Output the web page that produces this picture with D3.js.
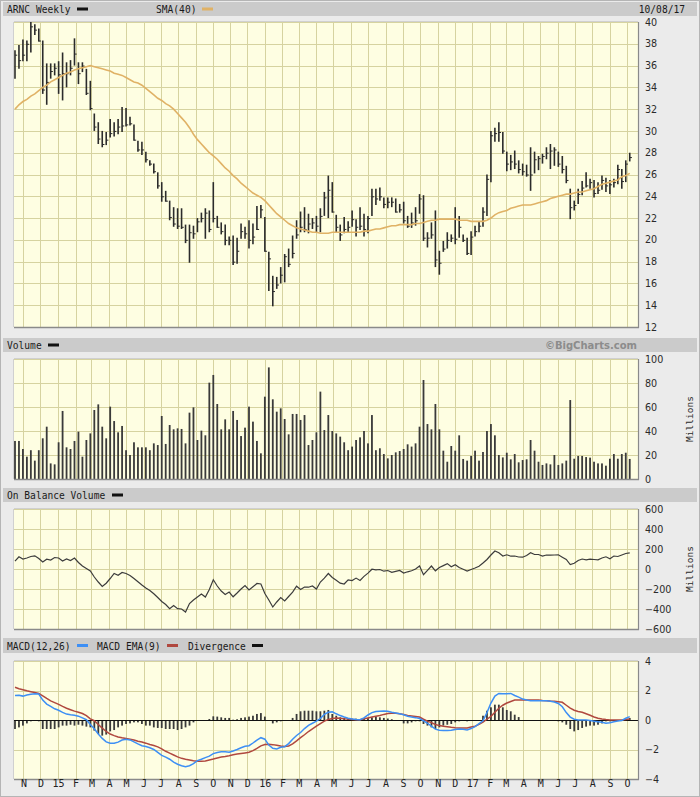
<!DOCTYPE html>
<html><head><meta charset="utf-8">
<script src="https://cdn.jsdelivr.net/npm/d3@7"></script>
<style>body{margin:0;background:#ebebeb;} svg{display:block}</style>
</head><body>
<svg id="c" width="700" height="797"></svg>
<script>
// ---------- DATA ----------
const firstWeek = new Date(2014, 9, 17);   // first weekly bar (Friday)
const weekCount = 156;
const monthLetters = ["J","F","M","A","M","J","J","A","S","O","N","D"];
const priceTicks = [12,14,16,18,20,22,24,26,28,30,32,34,36,38,40];
const volumeTicks = [0,20,40,60,80,100];
const obvTicks = [-600,-400,-200,0,200,400,600];
const macdTicks = [-4,-2,0,2,4];

const high = [37.4,37.9,38.4,38.3,40.0,39.8,39.4,38.3,36.2,36.2,36.2,36.4,37.2,36.3,36.5,38.5,36.3,36.3,35.7,34.6,
31.6,30.8,30.0,29.9,31.1,30.8,31.1,32.2,32.1,31.3,30.6,29.1,29.0,28.1,27.3,27.0,26.2,25.3,24.5,23.6,
23.0,22.9,22.9,21.4,21.4,21.3,22.0,22.5,22.9,22.7,25.3,22.2,21.6,21.4,20.3,20.4,20.2,21.5,21.2,21.8,
21.5,23.1,23.2,22.1,18.9,16.7,16.6,17.5,18.7,19.2,20.4,21.8,22.6,23.0,22.4,22.0,22.2,22.9,24.4,25.9,
25.3,22.3,21.4,22.1,21.7,22.7,21.9,23.0,22.4,22.2,24.7,24.7,24.8,23.9,23.9,23.9,23.8,23.3,23.5,22.2,
22.5,23.0,24.2,24.1,20.7,21.6,22.7,19.0,19.9,20.7,20.5,23.0,22.2,20.5,20.2,20.8,21.3,21.7,23.0,26.0,
30.0,30.3,30.8,29.9,28.1,27.8,28.2,27.3,27.0,26.9,28.5,28.1,27.7,27.9,28.5,28.8,28.5,28.1,27.7,26.8,
24.7,23.6,24.7,25.4,26.2,25.6,25.5,25.3,25.9,25.7,25.5,25.6,26.9,26.5,27.3,28.0];
const low = [34.8,35.7,36.4,36.4,37.2,38.8,38.2,33.4,32.4,34.8,35.1,33.4,32.8,34.0,35.1,36.0,34.3,35.4,33.3,31.9,
30.0,28.8,28.5,28.7,29.4,29.5,29.7,29.9,30.4,30.5,29.1,28.1,27.8,27.1,26.8,26.1,24.7,23.5,23.5,21.8,
21.2,21.0,21.0,19.7,17.9,20.1,20.7,21.6,20.1,20.7,21.6,21.1,20.5,19.5,19.5,17.7,17.8,20.1,20.1,19.2,
19.6,20.9,22.0,18.9,15.3,13.9,15.5,16.0,16.1,17.5,18.3,20.1,20.7,20.7,20.6,21.0,20.7,20.7,22.2,22.0,
22.5,20.7,19.9,20.6,20.7,21.2,20.3,20.9,20.3,20.6,22.2,23.2,23.6,22.9,22.9,23.0,22.5,22.5,21.5,21.1,
21.1,21.3,22.4,19.9,19.3,20.1,17.5,16.8,18.9,19.2,19.8,19.6,20.2,19.8,18.6,18.6,20.3,20.7,21.2,22.2,
25.3,29.0,29.0,27.9,26.3,26.4,26.5,26.1,25.9,25.8,24.5,26.1,26.4,27.0,27.4,26.5,26.8,26.7,26.1,25.2,
21.9,22.7,23.3,24.1,24.8,24.7,23.9,24.2,24.6,24.4,24.2,24.8,25.1,24.7,25.3,27.2];
const close = [37.0,36.5,37.0,38.0,39.6,39.3,38.3,33.8,34.5,35.5,35.8,35.2,35.3,35.3,35.8,37.1,35.3,36.0,33.5,32.1,
30.4,29.3,28.8,29.2,29.8,30.0,30.4,30.5,30.6,30.7,29.2,28.3,28.3,27.4,27.0,26.3,25.0,24.0,23.6,22.1,
21.5,21.3,21.2,20.0,20.7,20.6,21.7,22.0,22.5,21.0,22.0,21.2,20.8,20.0,20.0,18.0,19.0,20.8,20.6,20.0,
20.3,21.0,22.8,19.0,18.3,15.3,15.9,16.8,18.5,17.8,18.8,20.5,21.2,21.0,21.5,21.6,21.3,22.2,23.9,24.6,
22.6,21.2,20.5,21.0,21.2,21.9,21.2,21.3,21.0,22.0,24.0,23.8,24.0,23.3,23.5,23.5,22.6,22.8,21.8,21.3,
21.6,21.8,23.8,20.2,20.2,20.5,18.2,17.9,19.2,20.0,20.2,20.1,21.2,20.0,18.8,20.3,20.8,21.3,22.6,25.6,
29.6,29.8,29.9,28.2,27.0,27.2,27.0,26.5,26.3,26.0,26.0,27.4,27.5,27.7,28.0,28.2,28.3,27.0,26.5,25.5,
23.0,23.2,24.2,24.8,25.0,25.3,24.3,24.6,25.5,25.0,25.1,25.3,26.5,25.4,27.0,27.6];
const sma40 = [32.0,32.4,32.7,32.9,33.2,33.4,33.7,34.0,34.2,34.5,34.7,34.9,35.1,35.3,35.4,35.6,35.7,35.8,35.9,36.0,
35.9,35.8,35.7,35.6,35.5,35.3,35.2,35.1,34.9,34.7,34.5,34.4,34.2,33.9,33.6,33.3,33.0,32.8,32.5,32.3,
32.0,31.6,31.2,30.8,30.3,29.7,29.2,28.8,28.4,28.0,27.7,27.4,27.0,26.6,26.3,25.9,25.6,25.2,24.9,24.6,
24.3,24.1,23.9,23.6,23.2,22.8,22.4,22.1,21.8,21.5,21.3,21.1,21.0,20.9,20.8,20.7,20.7,20.6,20.6,20.6,
20.7,20.7,20.7,20.7,20.7,20.7,20.7,20.7,20.8,20.8,20.9,21.0,21.0,21.1,21.2,21.3,21.3,21.4,21.4,21.4,
21.4,21.5,21.5,21.6,21.7,21.8,21.8,21.9,21.9,21.9,21.9,21.9,21.8,21.8,21.8,21.7,21.7,21.7,21.7,21.8,
22.0,22.3,22.5,22.6,22.7,22.9,23.0,23.1,23.2,23.2,23.2,23.3,23.4,23.5,23.6,23.8,23.9,24.0,24.1,24.2,
24.2,24.3,24.4,24.4,24.5,24.6,24.7,24.9,25.1,25.2,25.3,25.4,25.5,25.8,25.9,26.1];
const volume = [31.7,31.7,25,18.6,24,15.3,24,33.9,43.6,13,12.2,30.6,56.7,26.4,25,31.7,39.4,18.6,32.5,38,
57.5,62.2,43.6,33.9,60.3,48.3,38.9,44.2,24,20,30.6,26.4,26.4,26.4,24,29.7,28.3,52.5,29.2,45,
41.4,42.2,41.7,29.7,55.3,59.7,32.5,40.3,36.4,80.3,86.7,62.5,41.4,49.7,41.4,56.7,49.2,35.8,42.8,60.3,
47.8,31.7,21.4,68.6,93,66.4,56.1,58.9,50,37.2,54.2,54.2,49.2,53.3,28.3,32.5,38.9,72.8,40.8,53.3,
40,38,35.3,30.6,24,27,32.5,34.7,40,29.7,53.3,24,25.6,20.8,17.2,20,22.2,23.3,25,28.9,
27,29.7,43.6,82.5,45.8,41.4,62.5,41.4,23.6,14.4,27.5,23.6,36.4,16.7,15.3,19.2,23.6,15.3,22.5,40,
45.8,36.4,20,18,21.9,16.4,20.8,13.9,15.8,16.4,32.5,23.6,14.4,11.7,13,12.2,20,11.7,13,15.3,
65.8,16.9,19.2,19.2,18.3,17.8,14.4,13,13,11.1,16.9,20.8,16.9,20.8,21.9,16.7];
const obv = [78,122,100,110,125,132,105,70,98,90,115,110,80,100,85,110,65,30,5,-20,
-80,-130,-175,-142,-95,-45,-62,-35,-45,-65,-95,-128,-160,-190,-215,-248,-285,-325,-355,-396,
-365,-396,-400,-430,-345,-310,-280,-250,-280,-205,-108,-170,-220,-255,-230,-278,-240,-200,-165,-210,
-178,-145,-150,-245,-310,-380,-330,-285,-319,-275,-232,-172,-205,-180,-182,-170,-200,-130,-92,-45,
-85,-112,-142,-150,-108,-115,-91,-115,-74,-41,-2,-8,-5,-22,-15,-34,-24,-15,-40,-28,
-18,0,30,-57,-14,30,-18,15,34,54,22,42,15,-2,-20,-5,10,28,60,95,
140,180,162,130,142,128,130,120,118,135,162,145,145,130,140,138,140,142,118,95,
44,58,85,100,92,98,95,92,110,122,103,130,125,140,155,162];
const macd = [1.66,1.68,1.62,1.70,1.74,1.78,1.76,1.35,1.08,0.92,0.76,0.66,0.52,0.40,0.35,0.32,0.26,0.14,0.02,-0.30,
-0.60,-0.95,-1.25,-1.48,-1.58,-1.58,-1.50,-1.36,-1.30,-1.35,-1.48,-1.62,-1.74,-1.80,-1.88,-2.00,-2.20,-2.40,-2.52,-2.66,
-2.85,-3.00,-3.10,-3.16,-3.10,-2.96,-2.75,-2.66,-2.55,-2.45,-2.28,-2.20,-2.16,-2.16,-2.18,-2.10,-2.00,-1.88,-1.78,-1.74,
-1.56,-1.36,-1.20,-1.30,-1.70,-1.92,-1.96,-1.85,-1.81,-1.60,-1.30,-1.05,-0.85,-0.58,-0.36,-0.22,-0.08,0.10,0.38,0.52,
0.55,0.42,0.30,0.20,0.12,0.07,0.04,0.02,0.14,0.34,0.50,0.57,0.60,0.61,0.59,0.53,0.48,0.42,0.36,0.25,
0.20,0.16,0.10,-0.05,-0.22,-0.42,-0.62,-0.70,-0.72,-0.72,-0.69,-0.64,-0.61,-0.62,-0.68,-0.58,-0.45,-0.25,-0.05,0.50,
1.15,1.62,1.80,1.78,1.78,1.80,1.66,1.55,1.42,1.35,1.31,1.31,1.31,1.31,1.30,1.27,1.22,1.12,0.90,0.50,
0.20,0.05,0.00,0.00,0.00,-0.04,-0.08,-0.12,-0.16,-0.22,-0.18,-0.12,-0.07,-0.03,0.12,0.23];
const signal = [2.22,2.12,2.05,1.98,1.92,1.86,1.80,1.64,1.46,1.30,1.18,1.06,0.92,0.80,0.70,0.60,0.53,0.44,0.30,0.08,
-0.05,-0.30,-0.55,-0.78,-0.95,-1.06,-1.15,-1.21,-1.26,-1.31,-1.36,-1.44,-1.49,-1.57,-1.66,-1.73,-1.82,-1.96,-2.12,-2.25,
-2.37,-2.50,-2.60,-2.66,-2.71,-2.76,-2.79,-2.80,-2.78,-2.71,-2.65,-2.57,-2.51,-2.47,-2.42,-2.36,-2.31,-2.27,-2.23,-2.19,
-2.08,-1.93,-1.75,-1.66,-1.64,-1.67,-1.71,-1.76,-1.80,-1.76,-1.62,-1.42,-1.20,-1.00,-0.78,-0.60,-0.42,-0.25,-0.08,0.03,
0.10,0.14,0.12,0.09,0.07,0.04,0.01,0.02,0.08,0.14,0.20,0.26,0.31,0.38,0.44,0.45,0.45,0.43,0.37,0.30,
0.27,0.24,0.20,0.05,-0.08,-0.18,-0.30,-0.38,-0.42,-0.45,-0.49,-0.52,-0.54,-0.54,-0.54,-0.48,-0.42,-0.30,-0.15,0.05,
0.25,0.52,0.80,1.00,1.15,1.25,1.35,1.36,1.36,1.36,1.36,1.36,1.35,1.32,1.30,1.28,1.27,1.24,1.20,1.00,
0.80,0.66,0.58,0.52,0.42,0.32,0.20,0.12,0.07,0.03,0.00,0.00,0.00,0.00,0.03,0.07];
const divergence = [-0.61,-0.5,-0.38,-0.23,-0.09,-0.05,-0.09,-0.61,-0.61,-0.61,-0.61,-0.5,-0.38,-0.38,-0.32,-0.38,-0.32,-0.38,-0.45,
-0.5,-0.72,-0.95,-1.06,-0.99,-0.77,-0.68,-0.5,-0.38,-0.27,-0.23,-0.16,-0.16,-0.27,-0.38,-0.38,-0.5,-0.54,-0.54,-0.61,-0.61,-0.61,-0.68,-0.61,-0.5,-0.38,
-0.16,-0.05,0,0,
0.07,0.25,0.23,0.18,0.14,0.14,0.02,0.05,0.14,0.18,0.23,0.29,0.41,0.47,0.23,0,-0.23,-0.16,-0.09,0,0,0.14,0.41,0.59,0.63,0.63,0.63,0.59,0.59,0.63,0.68,0.41,0.29,0.18,0.14,0.1,
0.09,0.09,0.05,0.14,0.14,0.18,0.23,0.18,0.14,0.1,0.05,0,0,-0.23,-0.23,-0.16,-0.09,-0.09,-0.27,-0.38,-0.5,-0.61,-0.5,-0.38,-0.32,-0.27,-0.16,-0.09,-0.05,-0.09,-0.05,0,0,
0.29,0.63,0.86,1.04,1.04,0.86,0.68,0.59,0.36,0.2,0,0,-0.03,-0.03,-0.03,-0.05,-0.05,-0.05,-0.05,-0.09,-0.16,-0.32,-0.61,-0.77,-0.68,-0.54,-0.45,-0.38,-0.38,-0.32,-0.23,-0.09,-0.09,-0.05,-0.05,0,0.05,0.14];

// ---------- LAYOUT ----------
const svg = d3.select("#c");
const W = 700, H = 797, xL = 14, xR = 638;
const dates = d3.timeFriday.range(firstWeek, d3.timeDay.offset(firstWeek, 7 * weekCount));
const x = d3.scaleTime().domain([new Date(2014, 9, 15, 6), new Date(2017, 9, 20, 14)]).range([xL, xR]);
const months = d3.timeMonth.range(new Date(2014, 10, 1), new Date(2017, 10, 1));

const mono = "'DejaVu Sans Mono', monospace";
const sans = "'DejaVu Sans', Verdana, sans-serif";

svg.append("rect").attr("x", 0).attr("y", 0).attr("width", W).attr("height", H).attr("fill", "#ebebeb");
svg.append("rect").attr("x", 0.5).attr("y", 0.5).attr("width", W - 1).attr("height", H - 1)
  .attr("fill", "none").attr("stroke", "#b5b5b5");

const panels = {
  price: { y: d3.scaleLinear().domain([12, 40]).range([327, 22]), ticks: priceTicks, band: [2, 16] },
  vol:   { y: d3.scaleLinear().domain([0, 100]).range([479, 359]), ticks: volumeTicks, band: [338, 352] },
  obv:   { y: d3.scaleLinear().domain([-600, 600]).range([629, 509]), ticks: obvTicks, band: [488, 502] },
  macd:  { y: d3.scaleLinear().domain([-4, 4]).range([779, 661]), ticks: macdTicks, band: [638, 653] }
};

// items: label, text x, swatch x, colour
function header(p, items, right) {
  const [t, b] = p.band;
  svg.append("rect").attr("x", 3).attr("y", t).attr("width", W - 6).attr("height", b - t).attr("fill", "#cbcbcb");
  items.forEach(it => {
    svg.append("text").attr("x", it.tx).attr("y", b - 3.5).attr("font-family", mono)
      .attr("font-size", 9.6).attr("fill", "#1a1a1a").text(it.label);
    svg.append("rect").attr("x", it.sx).attr("y", (t + b) / 2 - 1.5).attr("width", 11).attr("height", 3).attr("fill", it.color);
  });
  if (right) {
    svg.append("text").attr("x", right.x).attr("y", b - 3.5).attr("text-anchor", "end")
      .attr("font-family", right.font).attr("font-weight", right.weight || "normal")
      .attr("font-size", right.size).attr("fill", right.color).text(right.text);
  }
}

function frame(p) {
  const [y0, y1] = p.y.range();
  const g = svg.append("g");
  g.append("rect").attr("x", xL).attr("y", y1).attr("width", xR - xL).attr("height", y0 - y1).attr("fill", "#fefee2");
  g.selectAll(".vg").data(months).join("line")
    .attr("x1", d => Math.round(x(d)) + 0.5).attr("x2", d => Math.round(x(d)) + 0.5)
    .attr("y1", y1).attr("y2", y0).attr("stroke", "#d6d3a0").attr("stroke-width", 1);
  g.selectAll(".hg").data(p.ticks).join("line")
    .attr("x1", xL).attr("x2", xR)
    .attr("y1", d => Math.round(p.y(d)) + 0.5).attr("y2", d => Math.round(p.y(d)) + 0.5)
    .attr("stroke", "#d6d3a0").attr("stroke-width", 1);
  const ax = d3.axisRight(p.y).tickValues(p.ticks).tickSize(0).tickPadding(0);
  const ag = svg.append("g").attr("transform", `translate(645,0)`).call(ax);
  ag.select(".domain").remove();
  ag.selectAll("text").attr("font-family", sans).attr("font-size", 9.6).attr("fill", "#2a2a2a");
  return g;
}

function border(p) {
  const [y0, y1] = p.y.range();
  svg.append("line").attr("x1", xL).attr("x2", xR + 1).attr("y1", y0 + 0.5).attr("y2", y0 + 0.5).attr("stroke", "#8a8a8a").attr("stroke-width", 1.5);
  svg.append("line").attr("x1", xR + 0.5).attr("x2", xR + 0.5).attr("y1", y1).attr("y2", y0 + 1).attr("stroke", "#8a8a8a").attr("stroke-width", 1.2);
  svg.append("line").attr("x1", xL - 0.5).attr("x2", xL - 0.5).attr("y1", y1).attr("y2", y0).attr("stroke", "#d0d0d0");
  svg.append("line").attr("x1", xL).attr("x2", xR).attr("y1", y1 - 0.5).attr("y2", y1 - 0.5).attr("stroke", "#d0d0d0");
}

function millions(p) {
  const [y0, y1] = p.y.range();
  svg.append("text").attr("transform", `translate(693,${(y0 + y1) / 2}) rotate(-90)`)
    .attr("text-anchor", "middle").attr("font-family", mono).attr("font-size", 9.5)
    .attr("fill", "#2a2a2a").text("Millions");
}

// ---------- PRICE ----------
header(panels.price, [
  { label: "ARNC Weekly", tx: 7, sx: 77, color: "#111" },
  { label: "SMA(40)", tx: 156, sx: 202, color: "#e0b266" }],
  { x: 685, text: "10/08/17", font: mono, size: 9.6, color: "#1a1a1a" });
frame(panels.price);
const py = panels.price.y;
const priceG = svg.append("g");
priceG.selectAll("line.hl").data(dates).join("line")
  .attr("x1", d => x(d)).attr("x2", d => x(d))
  .attr("y1", (d, i) => py(high[i])).attr("y2", (d, i) => py(low[i]))
  .attr("stroke", "#2b2b2b").attr("stroke-width", 1.6);
priceG.selectAll("line.c").data(dates).join("line")
  .attr("x1", d => x(d)).attr("x2", d => x(d) + 2.2)
  .attr("y1", (d, i) => py(close[i]) + 0.5).attr("y2", (d, i) => py(close[i]) + 0.5)
  .attr("stroke", "#2b2b2b").attr("stroke-width", 1);
svg.append("path").datum(dates).attr("fill", "none").attr("stroke", "#e0b266").attr("stroke-width", 1.6)
  .attr("d", d3.line().x(d => x(d)).y((d, i) => py(sma40[i])));
border(panels.price);

// ---------- VOLUME ----------
header(panels.vol, [{ label: "Volume", tx: 7, sx: 48, color: "#111" }],
  { x: 637, text: "©BigCharts.com", font: sans, weight: "bold", size: 10, color: "#8c8c8c" });
frame(panels.vol);
const vy = panels.vol.y;
svg.append("g").selectAll("rect").data(dates).join("rect")
  .attr("x", d => x(d) - 0.9).attr("width", 1.8)
  .attr("y", (d, i) => vy(volume[i])).attr("height", (d, i) => vy(0) - vy(volume[i]))
  .attr("fill", "#3a3a3a");
border(panels.vol);
millions(panels.vol);

// ---------- OBV ----------
header(panels.obv, [{ label: "On Balance Volume", tx: 7, sx: 112, color: "#111" }]);
frame(panels.obv);
const oy = panels.obv.y;
svg.append("path").datum(dates).attr("fill", "none").attr("stroke", "#3c3c3c").attr("stroke-width", 1.2)
  .attr("d", d3.line().x(d => x(d)).y((d, i) => oy(obv[i])));
border(panels.obv);
millions(panels.obv);

// ---------- MACD ----------
header(panels.macd, [
  { label: "MACD(12,26)", tx: 7, sx: 77, color: "#3d8ff5" },
  { label: "MACD EMA(9)", tx: 97, sx: 167, color: "#b0483f" },
  { label: "Divergence", tx: 188, sx: 252, color: "#111" }]);
frame(panels.macd);
const my = panels.macd.y;
svg.append("g").selectAll("rect").data(dates).join("rect")
  .attr("x", d => x(d) - 0.9).attr("width", 1.8)
  .attr("y", (d, i) => Math.min(my(0), my(divergence[i])))
  .attr("height", (d, i) => Math.abs(my(divergence[i]) - my(0)))
  .attr("fill", "#3a3a3a");
svg.append("line").attr("x1", xL).attr("x2", xR).attr("y1", Math.round(my(0)) + 0.5).attr("y2", Math.round(my(0)) + 0.5)
  .attr("stroke", "#111").attr("stroke-width", 1);
svg.append("path").datum(dates).attr("fill", "none").attr("stroke", "#b0483f").attr("stroke-width", 1.5)
  .attr("d", d3.line().x(d => x(d)).y((d, i) => my(signal[i])));
svg.append("path").datum(dates).attr("fill", "none").attr("stroke", "#3d8ff5").attr("stroke-width", 1.5)
  .attr("d", d3.line().x(d => x(d)).y((d, i) => my(macd[i])));
border(panels.macd);

// ---------- X AXIS ----------
const xa = d3.axisBottom(x).tickValues(months).tickSize(0).tickPadding(0)
  .tickFormat(d => d.getMonth() === 0 ? d3.timeFormat("%y")(d) : monthLetters[d.getMonth()]);
const xg = svg.append("g").attr("transform", "translate(0,781)").call(xa);
xg.select(".domain").remove();
xg.selectAll("text").attr("font-family", mono).attr("font-size", 10).attr("fill", "#222").attr("dy", "0.6em");
</script>
</body></html>
